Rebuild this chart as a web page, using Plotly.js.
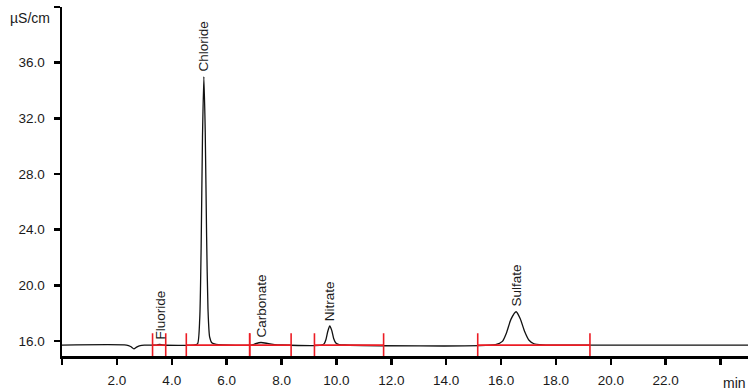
<!DOCTYPE html>
<html>
<head>
<meta charset="utf-8">
<script src="https://cdn.plot.ly/plotly-3.0.1.min.js"></script>
<style>html,body{margin:0;padding:0;background:#fff;}#chart{width:750px;height:391px;}</style>
</head>
<body>
<div id="chart"></div>
<script>
// Chromatogram signal (time in min, conductivity in µS/cm)
const timeMin = [0, 2.35, 2.5, 2.62, 2.72, 2.85, 3.0, 3.45, 3.56, 3.67,
  4.8, 4.94, 5.02, 5.07, 5.12, 5.17, 5.22, 5.27, 5.32, 5.38, 5.47, 5.62, 5.85,
  6.9, 7.05, 7.25, 7.5, 7.75, 8.0,
  9.45, 9.55, 9.62, 9.69, 9.76, 9.83, 9.90, 9.98, 10.1, 10.3,
  15.8, 16.05, 16.2, 16.36, 16.55, 16.7, 16.86, 17.02, 17.2, 17.5, 17.9, 25];
const signal = [15.70, 15.70, 15.60, 15.43, 15.56, 15.67, 15.70, 15.70, 15.76, 15.71,
  15.70, 15.79, 17.63, 22.65, 30.66, 35.0, 31.0, 23.5, 18.3, 16.3, 15.85, 15.75, 15.72,
  15.70, 15.80, 15.89, 15.82, 15.74, 15.71,
  15.70, 15.79, 16.11, 16.72, 17.08, 16.76, 16.18, 15.85, 15.74, 15.71,
  15.73, 15.97, 16.59, 17.55, 18.1, 17.6, 16.68, 16.05, 15.8, 15.72, 15.70, 15.70];

// Peaks
const peakNames = ["Fluoride", "Chloride", "Carbonate", "Nitrate", "Sulfate"];
const peakTimes = [3.6, 5.17, 7.27, 9.78, 16.57];
const peakHeights = [15.76, 35.0, 15.89, 17.08, 18.1];

// Integration windows (start / end, min) and baseline level
const windowStart = [3.30, 4.53, 6.84, 9.20, 15.15];
const windowEnd = [3.78, 6.84, 8.35, 11.72, 19.24];
const baselineLevel = 15.7;

// Axis ticks
const xTickVals = [0, 2, 4, 6, 8, 10, 12, 14, 16, 18, 20, 22, 24];
const xTickText = ["", "2.0", "4.0", "6.0", "8.0", "10.0", "12.0", "14.0", "16.0", "18.0", "20.0", "22.0", ""];
const yTickVals = [16, 20, 24, 28, 32, 36, 40];
const yTickText = ["16.0", "20.0", "24.0", "28.0", "32.0", "36.0", ""];

const red = "rgb(236,28,36)";

const segX = [], segY = [];
windowStart.forEach((s, i) => { segX.push(s, windowEnd[i], null); segY.push(baselineLevel, baselineLevel, null); });
const tickX = [], tickY = [];
windowStart.forEach((s, i) => { tickX.push(s, windowEnd[i]); tickY.push(baselineLevel, baselineLevel); });

const traces = [
  { x: timeMin, y: signal, type: "scatter", mode: "lines",
    line: { color: "#111", width: 1.3, shape: "spline", smoothing: 0.6 }, hoverinfo: "skip" },
  { x: segX, y: segY, type: "scatter", mode: "lines",
    line: { color: red, width: 1.6 }, hoverinfo: "skip" },
  { x: tickX, y: tickY, type: "scatter", mode: "markers",
    marker: { symbol: "line-ns", size: 17, color: red, line: { color: red, width: 1.6 } }, hoverinfo: "skip" }
];

const annotations = peakNames.map((n, i) => ({
  x: peakTimes[i], y: peakHeights[i], xref: "x", yref: "y",
  text: n, textangle: -90, showarrow: false, xanchor: "center", yanchor: "bottom", yshift: 3,
  font: { family: "Liberation Sans, Arial, sans-serif", size: 13.5, color: "#1a1a1a" }
}));
annotations.push({ x: 52, y: 18, xref: "paper", yref: "paper", text: "µS/cm", showarrow: false,
  font: { family: "Liberation Sans, Arial, sans-serif", size: 14, color: "#1a1a1a" } });
annotations[annotations.length - 1].xref = "paper";

const layout = {
  width: 750, height: 391,
  margin: { l: 62, r: 2, t: 7, b: 35 },
  paper_bgcolor: "#fff", plot_bgcolor: "#fff",
  showlegend: false,
  font: { family: "Liberation Sans, Arial, sans-serif", size: 13.5, color: "#1a1a1a" },
  xaxis: { range: [0, 25], tickvals: xTickVals, ticktext: xTickText, showline: true, linecolor: "#000", linewidth: 2.5,
    ticks: "outside", ticklen: 6, tickwidth: 2.5, tickcolor: "#000", showgrid: false, zeroline: false, ticklabelstandoff: 4 },
  yaxis: { range: [14.92, 40], tickvals: yTickVals, ticktext: yTickText, showline: true, linecolor: "#000", linewidth: 2.5,
    ticks: "outside", ticklen: 6, tickwidth: 2.5, tickcolor: "#000", showgrid: false, zeroline: false, ticklabelstandoff: 6 },
  annotations: annotations.slice(0, 5).concat([
    { x: 52 / 750, y: 1 - 11 / 349, xref: "paper", yref: "paper", text: "µS/cm", showarrow: false,
      xanchor: "right", yanchor: "middle", font: { size: 14, color: "#1a1a1a" } },
    { x: 1, y: 0, xref: "paper", yref: "paper", text: "min", showarrow: false,
      xanchor: "right", yanchor: "middle", yshift: -27, font: { size: 14, color: "#1a1a1a" } }
  ])
};
// adjust µS/cm to be placed left of plot area in pixels
layout.annotations[5].x = (52 - 62) / (750 - 64);
Plotly.newPlot("chart", traces, layout, { staticPlot: true, displayModeBar: false });
</script>
</body>
</html>
